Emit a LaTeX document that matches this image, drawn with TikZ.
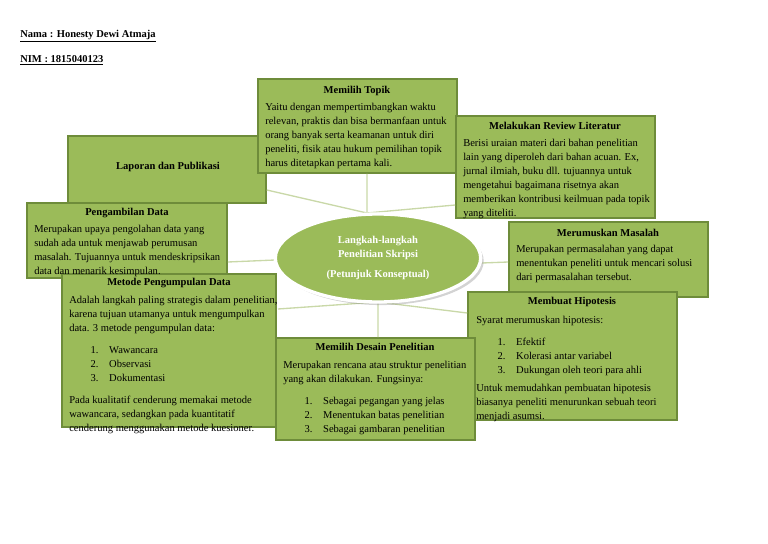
\documentclass[tikz,border=0pt]{standalone}
\usepackage{fontspec}
\setmainfont{Liberation Serif}
\usetikzlibrary{shadows,shapes.geometric}
\definecolor{gfill}{HTML}{9BBB59}
\definecolor{gline}{HTML}{6E8C3A}
\definecolor{conn}{HTML}{C9D8A8}
\tikzset{
 box/.style={draw=gline,line width=1.2pt,fill=gfill,drop shadow={opacity=0.35,shadow xshift=1pt,shadow yshift=-1pt},inner sep=0pt},
 txt/.style={anchor=north west,align=left,inner sep=0pt,font=\fontsize{7.9}{10.5}\selectfont},
 ttl/.style={anchor=north,inner sep=0pt,font=\fontsize{7.9}{10}\selectfont\bfseries},
 conline/.style={draw=conn,line width=1pt},
}
\newcommand{\bx}[5]{\node[box,minimum width={(#4-#2)*0.75},minimum height={(#5-#3)*0.75}] (#1) at ({(#2+#4)/2},{(#3+#5)/2}) {};}
\begin{document}
\begin{tikzpicture}[x=0.75pt,y=-0.75pt]
\useasboundingbox (0,0) rectangle (768,543);
\node[anchor=west,inner sep=0pt,font=\fontsize{7.9}{10}\selectfont\bfseries] (nama) at (20,36) {\underline{Nama : Honesty Dewi Atmaja}};
\node[anchor=west,inner sep=0pt,font=\fontsize{7.9}{10}\selectfont\bfseries] (nim) at (20,60) {\underline{NIM : 1815040123}};
% connectors
\coordinate (jt) at (367,213);
\coordinate (jb) at (378,302);
\bx{lap}{68}{136}{266}{203}
\bx{topik}{258}{79}{457}{173}
\bx{rev}{456}{116}{655}{218}
\bx{peng}{27}{203}{227}{278}
\bx{metode}{62}{274}{276}{427}
\bx{rum}{509}{222}{708}{297}
\bx{hip}{468}{292}{677}{420}
\bx{des}{276}{338}{475}{440}
\draw[conline] (lap.east|-0,190) -- (jt) -- (topik.south-|jt);
\draw[conline] (jt) -- (rev.west|-0,205);
\draw[conline] (peng.east|-0,262) -- (275,260);
\draw[conline] (482,263) -- (rum.west|-0,262);
\draw[conline] (278,309) -- (jb) -- (des.north-|jb);
\draw[conline] (jb) -- (hip.west|-0,313);
\node[ellipse,draw=white,line width=2.5pt,fill=gfill,minimum width=154pt,minimum height=66pt,drop shadow={opacity=0.35},inner sep=0pt] (pusat) at (378,258) {};
\node[align=center,text=white,font=\fontsize{7.9}{15}\selectfont\bfseries] (pt) at (pusat) {Langkah-langkah\\[-4pt]Penelitian Skripsi\\(Petunjuk Konseptual)};
% texts
\node[ttl] (t1) at (357,86) {Memilih Topik};
\node[txt] (b1) at (265,103) {Yaitu dengan mempertimbangkan waktu\\relevan, praktis dan bisa bermanfaan untuk\\orang banyak serta keamanan untuk diri\\peneliti, fisik atau hukum pemilihan topik\\harus ditetapkan pertama kali.};
\node[font=\fontsize{7.9}{10}\selectfont\bfseries] (t2) at (168,167) {Laporan dan Publikasi};
\node[ttl] (t3) at (555,122) {Melakukan Review Literatur};
\node[txt] (b3) at (463,139) {Berisi uraian materi dari bahan penelitian\\lain yang diperoleh dari bahan acuan. Ex,\\jurnal ilmiah, buku dll. tujuannya untuk\\mengetahui bagaimana risetnya akan\\memberikan kontribusi keilmuan pada topik\\yang diteliti.};
\node[ttl] (t4) at (127,208) {Pengambilan Data};
\node[txt] (b4) at (34,225) {Merupakan upaya pengolahan data yang\\sudah ada untuk menjawab perumusan\\masalah. Tujuannya untuk mendeskripsikan\\data dan menarik kesimpulan.};
\node[ttl] (t5) at (608,229) {Merumuskan Masalah};
\node[txt] (b5) at (516,245) {Merupakan permasalahan yang dapat\\menentukan peneliti untuk mencari solusi\\dari permasalahan tersebut.};
\node[ttl] (t6) at (169,278) {Metode Pengumpulan Data};
\node[txt] (b6) at (69,296) {Adalah langkah paling strategis dalam penelitian,\\karena tujuan utamanya untuk mengumpulkan\\data. 3 metode pengumpulan data:\\[6pt]
\hspace*{16pt}1.\hspace{8pt}Wawancara\\\hspace*{16pt}2.\hspace{8pt}Observasi\\\hspace*{16pt}3.\hspace{8pt}Dokumentasi\\[6pt]
Pada kualitatif cenderung memakai metode\\wawancara, sedangkan pada kuantitatif\\cenderung menggunakan metode kuesioner.};
\node[ttl] (t7) at (572,297) {Membuat Hipotesis};
\node[txt] (b7) at (476,316) {Syarat merumuskan hipotesis:\\[6pt]
\hspace*{16pt}1.\hspace{8pt}Efektif\\\hspace*{16pt}2.\hspace{8pt}Kolerasi antar variabel\\\hspace*{16pt}3.\hspace{8pt}Dukungan oleh teori para ahli\\[3pt]
Untuk memudahkan pembuatan hipotesis\\biasanya peneliti menurunkan sebuah teori\\menjadi asumsi.};
\node[ttl] (t8) at (375,343) {Memilih Desain Penelitian};
\node[txt] (b8) at (283,361) {Merupakan rencana atau struktur penelitian\\yang akan dilakukan. Fungsinya:\\[6pt]
\hspace*{16pt}1.\hspace{8pt}Sebagai pegangan yang jelas\\\hspace*{16pt}2.\hspace{8pt}Menentukan batas penelitian\\\hspace*{16pt}3.\hspace{8pt}Sebagai gambaran penelitian};
\end{tikzpicture}
\end{document}
